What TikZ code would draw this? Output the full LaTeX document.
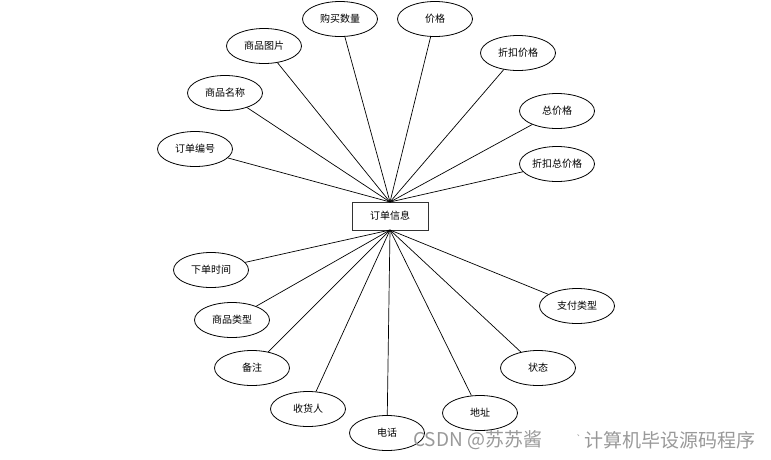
\documentclass[tikz,border=0pt]{standalone}
\usepackage{fontspec}
\setmainfont{Liberation Sans}
\newfontfamily\cjk{Noto Sans CJK SC}
\usetikzlibrary{shapes.geometric}
\begin{document}
\begin{tikzpicture}[x=1pt,y=-1pt,
  attr/.style={ellipse,draw=black,line width=0.8pt,minimum width=75pt,minimum height=35pt,inner sep=0pt,font=\cjk\fontsize{10}{12}\selectfont},
  ent/.style={rectangle,draw=black!80,line width=1pt,minimum width=76pt,minimum height=28pt,inner sep=0pt,font=\cjk\fontsize{10}{12}\selectfont},
  link/.style={draw=black,line width=0.7pt},
  wmark/.style={anchor=west,text=black!40,font=\cjk\fontsize{19}{20}\selectfont,inner sep=0pt}]
\useasboundingbox (0,0) rectangle (771,459);
\node[ent] (c) at (390,216) {订单信息};
\coordinate (top) at (390,202);
\coordinate (bot) at (390,230);
% upper attributes
\node[attr] (a1) at (195,149) {订单编号};
\node[attr] (a2) at (225,93) {商品名称};
\node[attr] (a3) at (264,46) {商品图片};
\node[attr] (a4) at (340,19) {购买数量};
\node[attr] (a5) at (435,19) {价格};
\node[attr] (a6) at (518,53) {折扣价格};
\node[attr] (a7) at (557,111) {总价格};
\node[attr] (a8) at (557,164) {折扣总价格};
% lower attributes
\node[attr] (b1) at (211,270) {下单时间};
\node[attr] (b2) at (232,320) {商品类型};
\node[attr] (b3) at (252,368) {备注};
\node[attr] (b4) at (308,409) {收货人};
\node[attr] (b5) at (387,433) {电话};
\node[attr] (b6) at (480,413) {地址};
\node[attr] (b7) at (538,368) {状态};
\node[attr] (b8) at (577,306) {支付类型};
\foreach \n in {a1,a2,a3,a4,a5,a6,a7,a8}{\draw[link] (top) -- (\n);}
\foreach \n in {b1,b2,b3,b4,b5,b6,b7,b8}{\draw[link] (bot) -- (\n);}
% watermark
\node[wmark] (wm1) at (413,440) {CSDN @苏苏酱};
\node[wmark] (wm2) at (576,440) {\raisebox{5pt}{\fontsize{9}{9}\selectfont `}\,计算机毕设源码程序};
\end{tikzpicture}
\end{document}
